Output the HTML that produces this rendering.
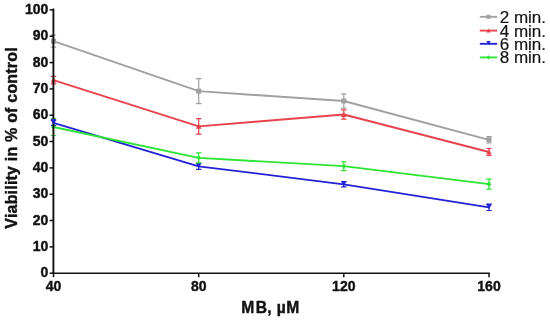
<!DOCTYPE html>
<html><head><meta charset="utf-8"><title>Viability chart</title>
<style>
html,body{margin:0;padding:0;background:#fff;}
svg{display:block;filter:blur(0.35px);}
text{font-family:"Liberation Sans",sans-serif;fill:#111;}
.b{font-weight:bold;stroke:#111;stroke-width:0.4px;}
</style></head><body>
<svg width="550" height="321" viewBox="0 0 550 321">
<rect width="550" height="321" fill="#fff"/>

<g class="b" font-size="14" text-anchor="end">
<text x="48.3" y="277.4">0</text>
<text x="48.3" y="251.1">10</text>
<text x="48.3" y="224.7">20</text>
<text x="48.3" y="198.4">30</text>
<text x="48.3" y="172.1">40</text>
<text x="48.3" y="145.7">50</text>
<text x="48.3" y="119.4">60</text>
<text x="48.3" y="93.1">70</text>
<text x="48.3" y="66.8">80</text>
<text x="48.3" y="40.4">90</text>
<text x="48.3" y="14.1">100</text>
</g>
<g class="b" font-size="14" text-anchor="middle">
<text x="53.5" y="291.2">40</text>
<text x="198.7" y="291.2">80</text>
<text x="343.8" y="291.2">120</text>
<text x="489.0" y="291.2">160</text>
</g>
<text class="b" font-size="15.6" x="241.2 255.7 267.2 271.5 276.8 286.3" y="313">MB, µM</text>
<text class="b" font-size="16" letter-spacing="0.2" text-anchor="middle" transform="translate(17.0 137.9) rotate(-90)">Viability in % of control</text>
<g stroke="#a0a0a0" fill="none">
<path d="M53.5 41.2L198.7 91.2L343.8 101.0L489.0 139.8" stroke-width="1.85" stroke-linejoin="round"/>
<path d="M53.5 35.2V47.2M50.8 35.2H56.2M50.8 47.2H56.2" stroke-width="1.2"/>
<path d="M198.7 78.7V103.7M196.0 78.7H201.4M196.0 103.7H201.4" stroke-width="1.2"/>
<path d="M343.8 93.9V108.1M341.1 93.9H346.5M341.1 108.1H346.5" stroke-width="1.2"/>
<path d="M489.0 136.6V143.0M486.3 136.6H491.7M486.3 143.0H491.7" stroke-width="1.2"/>
</g>
<rect x="51.0" y="38.7" width="5.0" height="5.0" fill="#a0a0a0"/>
<rect x="196.2" y="88.7" width="5.0" height="5.0" fill="#a0a0a0"/>
<rect x="341.3" y="98.5" width="5.0" height="5.0" fill="#a0a0a0"/>
<rect x="486.5" y="137.3" width="5.0" height="5.0" fill="#a0a0a0"/>
<g stroke="#e8424c" fill="none">
<path d="M53.5 80.1L198.7 126.4L343.8 114.5L489.0 152.0" stroke-width="1.85" stroke-linejoin="round"/>
<path d="M53.5 76.3V83.9M50.8 76.3H56.2M50.8 83.9H56.2" stroke-width="1.2"/>
<path d="M198.7 118.6V134.2M196.0 118.6H201.4M196.0 134.2H201.4" stroke-width="1.2"/>
<path d="M343.8 109.8V119.2M341.1 109.8H346.5M341.1 119.2H346.5" stroke-width="1.2"/>
<path d="M489.0 148.5V155.5M486.3 148.5H491.7M486.3 155.5H491.7" stroke-width="1.2"/>
</g>
<path d="M50.7 82.5L56.3 82.5L53.5 77.3Z" fill="#e8424c"/>
<path d="M195.9 128.8L201.5 128.8L198.7 123.6Z" fill="#e8424c"/>
<path d="M341.0 116.9L346.6 116.9L343.8 111.7Z" fill="#e8424c"/>
<path d="M486.2 154.4L491.8 154.4L489.0 149.2Z" fill="#e8424c"/>
<g stroke="#2422d6" fill="none">
<path d="M53.5 122.8L198.7 166.3L343.8 184.3L489.0 207.3" stroke-width="1.85" stroke-linejoin="round"/>
<path d="M53.5 120.3V125.3M50.8 120.3H56.2M50.8 125.3H56.2" stroke-width="1.2"/>
<path d="M198.7 163.3V169.3M196.0 163.3H201.4M196.0 169.3H201.4" stroke-width="1.2"/>
<path d="M343.8 181.7V186.9M341.1 181.7H346.5M341.1 186.9H346.5" stroke-width="1.2"/>
<path d="M489.0 204.1V210.5M486.3 204.1H491.7M486.3 210.5H491.7" stroke-width="1.2"/>
</g>
<path d="M50.7 119.5L56.3 119.5L53.5 124.7Z" fill="#2422d6"/>
<path d="M195.9 163.0L201.5 163.0L198.7 168.2Z" fill="#2422d6"/>
<path d="M341.0 181.0L346.6 181.0L343.8 186.2Z" fill="#2422d6"/>
<path d="M486.2 204.0L491.8 204.0L489.0 209.2Z" fill="#2422d6"/>
<g stroke="#2ce434" fill="none">
<path d="M53.5 127.0L198.7 157.8L343.8 166.2L489.0 184.2" stroke-width="1.85" stroke-linejoin="round"/>
<path d="M53.5 118.5V135.5M50.8 118.5H56.2M50.8 135.5H56.2" stroke-width="1.2"/>
<path d="M198.7 152.8V162.8M196.0 152.8H201.4M196.0 162.8H201.4" stroke-width="1.2"/>
<path d="M343.8 161.8V170.6M341.1 161.8H346.5M341.1 170.6H346.5" stroke-width="1.2"/>
<path d="M489.0 179.2V189.2M486.3 179.2H491.7M486.3 189.2H491.7" stroke-width="1.2"/>
</g>
<path d="M51.1 127.0L53.5 124.4L55.9 127.0L53.5 129.6Z" fill="#2ce434"/>
<path d="M196.3 157.8L198.7 155.2L201.1 157.8L198.7 160.4Z" fill="#2ce434"/>
<path d="M341.4 166.2L343.8 163.6L346.2 166.2L343.8 168.8Z" fill="#2ce434"/>
<path d="M486.6 184.2L489.0 181.6L491.4 184.2L489.0 186.8Z" fill="#2ce434"/>
<g stroke="#111" stroke-width="1.9" fill="none">
<path d="M53.4 8.6V274"/>
</g><g stroke="#111" stroke-width="1.5" fill="none">
<path d="M52.5 273.2H489.8"/>
<path d="M49.6 273.2H53.5"/>
<path d="M49.6 246.9H53.5"/>
<path d="M49.6 220.5H53.5"/>
<path d="M49.6 194.2H53.5"/>
<path d="M49.6 167.9H53.5"/>
<path d="M49.6 141.5H53.5"/>
<path d="M49.6 115.2H53.5"/>
<path d="M49.6 88.9H53.5"/>
<path d="M49.6 62.6H53.5"/>
<path d="M49.6 36.2H53.5"/>
<path d="M49.6 9.9H53.5"/>
<path d="M53.5 273.2V277.2"/>
<path d="M198.7 273.2V277.2"/>
<path d="M343.8 273.2V277.2"/>
<path d="M489.0 273.2V277.2"/>
</g>
<path d="M50.7 119.3L56.3 119.3L53.5 124.5Z" fill="#2422d6"/>
<path d="M479.8 16.8H497.2" stroke="#a0a0a0" stroke-width="1.85"/>
<rect x="486.5" y="14.8" width="4.0" height="4.0" fill="#a0a0a0"/>
<text stroke="#111" stroke-width="0.15" font-size="15.6" x="499.7" y="23.0" textLength="46.4" lengthAdjust="spacingAndGlyphs">2 min.</text>
<path d="M479.8 30.6H497.2" stroke="#e8424c" stroke-width="1.85"/>
<path d="M486.3 32.5L490.7 32.5L488.5 28.4Z" fill="#e8424c"/>
<text stroke="#111" stroke-width="0.15" font-size="15.6" x="499.7" y="36.5" textLength="46.4" lengthAdjust="spacingAndGlyphs">4 min.</text>
<path d="M479.8 43.8H497.2" stroke="#2422d6" stroke-width="1.85"/>
<path d="M486.3 41.0L490.7 41.0L488.5 45.1Z" fill="#2422d6"/>
<text stroke="#111" stroke-width="0.15" font-size="15.6" x="499.7" y="49.9" textLength="46.4" lengthAdjust="spacingAndGlyphs">6 min.</text>
<path d="M479.8 57.4H497.2" stroke="#2ce434" stroke-width="1.85"/>
<path d="M486.6 57.4L488.5 55.3L490.4 57.4L488.5 59.5Z" fill="#2ce434"/>
<text stroke="#111" stroke-width="0.15" font-size="15.6" x="499.7" y="63.3" textLength="46.4" lengthAdjust="spacingAndGlyphs">8 min.</text>
</svg></body></html>
